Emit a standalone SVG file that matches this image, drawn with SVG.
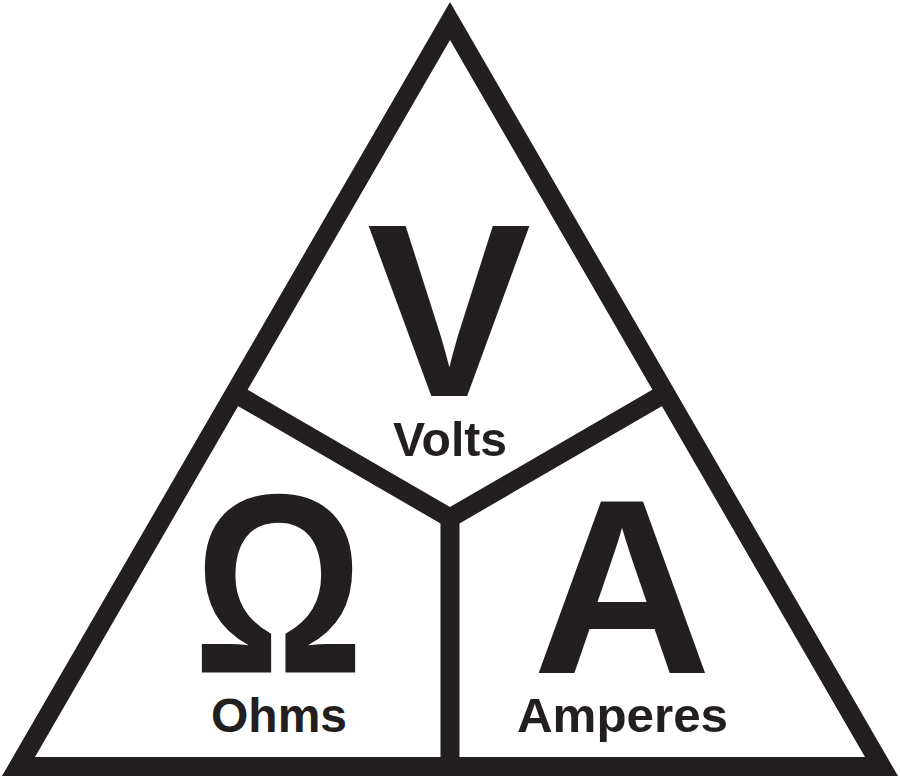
<svg xmlns="http://www.w3.org/2000/svg" width="900" height="779" viewBox="0 0 900 779">
<style>
.ink{fill:#231f20}
.div{fill:none;stroke:#231f20;stroke-width:19;stroke-linejoin:miter;stroke-linecap:butt}
.sym{font-family:"Liberation Sans",Arial,sans-serif;font-weight:bold;fill:#231f20;text-anchor:middle}
.lbl{font-family:"Liberation Sans",Arial,sans-serif;font-weight:bold;fill:#231f20;text-anchor:middle;font-size:48px}
</style>
<rect width="900" height="779" fill="#fff"/>
<g id="frame">
<path class="ink" fill-rule="evenodd" d="M450,2 L898,776 L2,776 Z M450,40 L35,757 L865,757 Z"/>
</g>
<g id="connectors">
<path class="div" d="M237.8,395 L450,518 L662.2,395"/>
<path class="div" d="M450,518 L450,766"/>
</g>
<g id="volts">
<text class="sym" x="449" y="396" font-size="246">V</text>
<text class="lbl" x="450" y="456" font-size="50" textLength="114" lengthAdjust="spacingAndGlyphs">Volts</text>
</g>
<g id="ohms">
<text class="sym" transform="translate(278.5,672.5) scale(0.886,1.067)" x="0" y="0" font-size="240">Ω</text>
<text class="lbl" x="279" y="731.5" textLength="136" lengthAdjust="spacingAndGlyphs">Ohms</text>
</g>
<g id="amperes">
<text class="sym" x="622" y="672.5" font-size="248">A</text>
<text class="lbl" x="622.5" y="731.5" textLength="211" lengthAdjust="spacingAndGlyphs">Amperes</text>
</g>
</svg>
